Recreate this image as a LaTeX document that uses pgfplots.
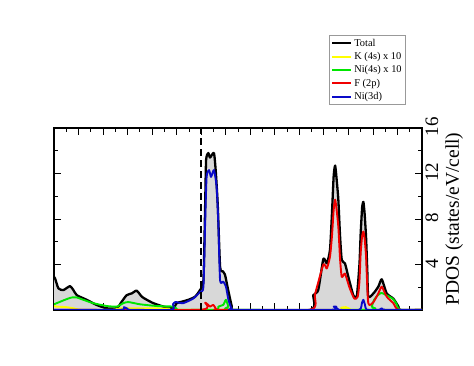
\documentclass[border=0pt]{standalone}
\usepackage{pgfplots}
\pgfplotsset{compat=1.18}
\usepackage{pgfplotstable}
\usepackage{fontspec}
\setmainfont{Liberation Serif}
\definecolor{cyel}{RGB}{255,255,0}
\definecolor{cgrn}{RGB}{0,230,0}
\definecolor{cred}{RGB}{240,0,0}
\definecolor{cblu}{RGB}{10,10,200}
\definecolor{cfill}{RGB}{216,216,216}

\pgfplotstableread{
x y
-6.00 2.9
-5.96 2.8
-5.82 1.9
-5.62 1.75
-5.35 2.1
-5.21 1.75
-5.07 1.3
-4.67 0.9
-4.26 0.44
-3.85 0.15
-3.44 0.15
-3.24 0.73
-3.04 1.3
-2.83 1.46
-2.63 1.7
-2.42 1.17
-2.22 0.9
-1.95 0.6
-1.54 0.3
-1.14 0.15
-1.00 0.6
-0.79 0.73
-0.52 0.9
-0.25 1.17
-0.05 1.75
0.09 2.6
0.16 9.1
0.20 13.2
0.29 13.8
0.36 13.4
0.52 13.8
0.60 12.0
0.68 9.0
0.77 3.8
0.88 3.4
0.97 3.1
1.10 1.75
1.25 0.3
1.35 0
4.44 0
4.57 1.3
4.77 1.75
4.98 4.5
5.12 4.1
5.25 5.3
5.33 8.5
5.40 11.8
5.46 12.7
5.52 11.5
5.59 9.7
5.66 6.5
5.73 4.4
5.86 4.1
6.00 2.9
6.20 1.3
6.34 1.17
6.45 4.0
6.50 6.7
6.56 9.0
6.61 9.5
6.66 8.5
6.72 6.4
6.77 3.5
6.81 1.17
7.02 1.46
7.22 2.05
7.36 2.7
7.56 1.46
7.83 1.0
8.04 0.3
8.11 0
9.00 0
}\total

\pgfplotstableread{
x y
-6.00 0.35
-5.89 0.3
-5.50 0.25
-5.20 0.15
-4.90 0.02
-3.60 0.02
-3.30 0.15
-2.50 0.15
-1.30 0.12
-1.10 0.02
5.60 0.02
5.70 0.2
5.90 0.25
6.05 0.1
6.20 0.02
9.00 0.02
}\kfs

\pgfplotstableread{
x y
-6.00 0.5
-5.89 0.6
-5.55 0.9
-5.28 1.1
-5.07 1.1
-4.81 0.9
-4.40 0.6
-3.85 0.35
-3.44 0.3
-3.17 0.6
-2.97 0.7
-2.49 0.5
-1.81 0.35
-1.15 0.3
-1.00 0.1
-0.90 0.02
0.60 0.02
0.70 0.3
0.90 0.45
1.01 0.9
1.11 0.3
1.24 0.02
6.85 0.02
6.95 0.3
7.05 0.9
7.20 1.3
7.35 1.5
7.55 1.3
7.80 1.0
7.95 0.6
8.10 0.02
9.00 0.02
}\nifs

\pgfplotstableread{
x y
-6.00 0.02
-0.05 0.02
0.16 0.64
0.36 0.3
0.49 0.45
0.62 0.05
0.70 0.02
4.44 0.02
4.64 1.4
4.98 4.0
5.12 3.65
5.25 4.7
5.33 6.5
5.40 8.8
5.46 9.7
5.52 8.8
5.59 7.3
5.66 4.5
5.73 2.9
5.86 3.2
6.04 2.0
6.24 1.0
6.38 1.17
6.45 2.5
6.50 5.0
6.56 6.5
6.61 6.9
6.66 6.3
6.72 4.7
6.81 0.6
7.02 0.7
7.22 1.46
7.36 2.05
7.56 1.17
7.83 0.6
8.04 0.02
9.00 0.02
}\ftp

\pgfplotstableread{
x y
-6.00 0.02
-3.30 0.02
-3.15 0.25
-3.00 0.1
-2.90 0.02
-1.20 0.02
-1.15 0.5
-1.05 0.7
-0.74 0.6
-0.33 1.0
-0.04 1.6
0.09 2.05
0.16 7.6
0.22 11.7
0.32 12.3
0.40 11.7
0.52 12.3
0.63 10.8
0.70 7.5
0.77 2.6
0.90 2.5
1.01 2.05
1.11 0.9
1.24 0.1
1.30 0.02
5.30 0.02
5.40 0.3
5.50 0.3
5.60 0.02
6.45 0.02
6.55 0.6
6.61 0.9
6.67 0.5
6.75 0.02
7.25 0.02
7.36 0.15
7.50 0.02
9.00 0.02
}\nitd

\begin{document}
\begin{tikzpicture}
\useasboundingbox (0,0) rectangle (474pt,366pt);
\begin{axis}[
  at={(54pt,56pt)}, anchor=south west,
  scale only axis, width=368pt, height=182pt,
  xmin=-6, xmax=9, ymin=0, ymax=16,
  xtick={-6,-5,...,9}, minor xtick={-5.5,-4.5,...,8.5}, xticklabels={},
  ytick={4,8,12,16}, minor ytick={2,6,10,14},
  yticklabel pos=right,
  tick align=inside,
  major tick length=7pt, minor tick length=4pt,
  every tick/.style={black, line width=0.8pt},
  axis line style={line width=2.6pt},
  /pgf/number format/assume math mode=true,
  yticklabel style={rotate=90, anchor=north, font=\fontsize{19}{19}\selectfont, xshift=1pt},
  ylabel={PDOS (states/eV/cell)},
  ylabel style={font=\fontsize{19.5}{20}\selectfont},
  clip=true,
  legend cell align=left,
  legend style={at={(0.747,1.511)}, anchor=north west,
    draw=gray!80, line width=0.8pt,
    font=\fontsize{10.4}{11}\selectfont,
    inner xsep=2pt, inner ysep=1.5pt, row sep=0.6pt},
  legend image code/.code={\draw[#1, line width=2pt] (0pt,0pt) -- (19pt,0pt);},
]
\addplot[draw=none, fill=cfill, forget plot, smooth, tension=0.35] table[x=x,y=y] {\total} \closedcycle;
\addplot[black, line width=2.3pt, line join=round, smooth, tension=0.35] table[x=x,y=y] {\total};
\addlegendentry{Total}
\addplot[cyel, line width=1.9pt, line join=round, smooth, tension=0.35] table[x=x,y=y] {\kfs};
\addlegendentry{K (4s) x 10}
\addplot[cgrn, line width=1.9pt, line join=round, smooth, tension=0.35] table[x=x,y=y] {\nifs};
\addlegendentry{Ni(4s) x 10}
\addplot[cred, line width=1.9pt, line join=round, smooth, tension=0.35] table[x=x,y=y] {\ftp};
\addlegendentry{F (2p)}
\addplot[cblu, line width=1.9pt, line join=round, smooth, tension=0.35] table[x=x,y=y] {\nitd};
\addlegendentry{Ni(3d)}
\addplot[black, line width=1.6pt, dash pattern=on 7pt off 4pt, forget plot] coordinates {(0,0) (0,16)};
\end{axis}
\end{tikzpicture}
\end{document}
